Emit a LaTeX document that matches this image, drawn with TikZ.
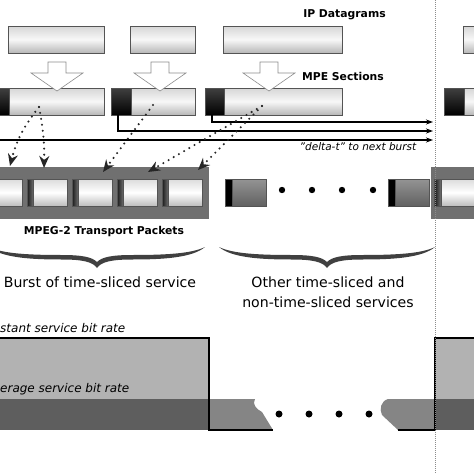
\documentclass[tikz,border=0pt]{standalone}
\usepackage{fontspec}
\setmainfont{DejaVu Sans}
\usetikzlibrary{positioning,arrows.meta}
\newlength{\du}
\setlength{\du}{1pt}
\definecolor{boxline}{rgb}{0.330000, 0.330000, 0.330000}
\definecolor{bandgray}{rgb}{0.440000, 0.440000, 0.440000}
\definecolor{constgray}{rgb}{0.700000, 0.700000, 0.700000}
\definecolor{avggray}{rgb}{0.370000, 0.370000, 0.370000}
\definecolor{tailgray}{rgb}{0.520000, 0.520000, 0.520000}
\newcommand{\secfont}{\fontsize{10.8}{13}\selectfont\bfseries}
\newcommand{\bracefont}{\fontsize{14.1}{20}\selectfont}
\newcommand{\ratefont}{\fontsize{12}{14}\selectfont\itshape}
\tikzset{
  box/.style={draw=boxline, line width=0.8\du, inner sep=0pt, outer sep=0pt, minimum height=27\du},
  ipbox/.style={box, top color=black!16, bottom color=black!28, middle color=black!3},
  mpehead/.style={box, top color=black!75, bottom color=black, minimum width=20\du},
  pkthead/.style={box, left color=black!90, right color=black!55, minimum width=6.5\du},
  litpkt/.style={box, top color=black!14, bottom color=black!26, middle color=white, minimum width=33.5\du},
  drkpkt/.style={box, top color=black!42, bottom color=black!62, minimum width=34\du},
  drkhead/.style={box, fill=black, minimum width=7\du},
  hollow/.style={draw=black!45, fill=white, line width=0.6\du, line join=miter},
  dotarrow/.style={draw=black!85, line width=2.3\du, line cap=round, dash pattern=on 0pt off 6\du, -{Stealth[length=12pt,width=10pt]}},
  tline/.style={line width=1.3\du, -{Stealth[length=7pt,width=5pt]}},
  bracefill/.style={fill=black!75},
  rateline/.style={line width=1.5\du, line join=miter},
}

\begin{document}
\begin{tikzpicture}[x=\du,y=\du]
\pgftransformxscale{1.000000}
\pgftransformyscale{-1.000000}
\useasboundingbox (0,0) rectangle (474,474);
% IP datagrams
\node[ipbox, minimum width=96\du] (ip1) at (56,39.5) {};
\node[ipbox, minimum width=65\du] (ip2) at (162.5,39.5) {};
\node[ipbox, minimum width=119\du] (ip3) at (282.5,39.5) {};
\node[ipbox, minimum width=60\du] (ip4) at (493,39.5) {};
\node (iplabel) at (344.5,15) {\secfont IP Datagrams};
% MPE sections
\node[ipbox, minimum width=95\du] (mpe1) at (56.5,101.5) {};
\node[mpehead, minimum width=21\du, left=0pt of mpe1] (mpehd1) {};
\node[ipbox, minimum width=64\du] (mpe2) at (163,101.5) {};
\node[mpehead, left=0pt of mpe2] (mpehd2) {};
\node[ipbox, minimum width=118\du] (mpe3) at (283,101.5) {};
\node[mpehead, minimum width=19\du, left=0pt of mpe3] (mpehd3) {};
\node[ipbox, minimum width=60\du] (mpe4) at (494,101.5) {};
\node[mpehead, left=0pt of mpe4] (mpehd4) {};
\node (mpelabel) at (343,76) {\secfont MPE Sections};
\foreach \cx in {57,160,269}
  \filldraw[hollow, shift={(\cx,0)}] (-9,62) -- (9,62) -- (9,73) -- (26,73) -- (0,91) -- (-26,73) -- (-9,73) -- cycle;
% delta-t
\coordinate (end1) at (433,140);
\coordinate (end2) at (433,131);
\coordinate (end3) at (433,122);
\draw[tline] (mpehd1.south) |- (end1);
\draw[tline] ([xshift=-3\du]mpehd2.south) |- (end2);
\draw[tline] ([xshift=-2.5\du]mpehd3.south) |- (end3);
\node (deltalabel) at (358,147) {\fontsize{10.5}{12}\selectfont\itshape "delta-t" to next burst};
% transport packets
\fill[bandgray] (0,167) rectangle (209,219);
\fill[bandgray] (431,167) rectangle (480,219);
\foreach \i/\x in {0/-18,1/27,2/72,3/117,4/162} {
  \node[litpkt] (pkt\i) at ({\x+23.25},192.5) {};
  \node[pkthead, left=0pt of pkt\i] (pkthd\i) {};
}
\node[drkpkt] (other1) at (249,192.5) {};
\node[drkhead, left=0pt of other1] (othhd1) {};
\node[drkpkt] (other2) at (412,192.5) {};
\node[drkhead, left=0pt of other2] (othhd2) {};
\foreach \x in {282,312,342,373}
  \fill (\x,190) circle (3.2);
\node[litpkt, minimum width=40\du] (next) at (461,192.5) {};
\node[pkthead, left=0pt of next] (nexthd) {};
\node (pktlabel) at (104,232) {\secfont MPEG-2 Transport Packets};
% section to packet
\coordinate (src1) at (39,107);
\coordinate (src2) at (153,105);
\coordinate (src3) at (262,106);
\coordinate (tgt0) at (10,166);
\coordinate (tgt1) at (44,168);
\coordinate (tgt2) at (103,172);
\coordinate (tgt3) at (148,172);
\coordinate (tgt4) at (198,170);
\draw[dotarrow] (src1) to[bend left=12] (tgt0);
\draw[dotarrow] (src1) to[bend right=6] (tgt1);
\draw[dotarrow] (src2) -- (tgt2);
\draw[dotarrow] (src3) -- (tgt3);
\draw[dotarrow] (src3) -- (tgt4);
% braces
\foreach \cx in {97,327}
  \fill[bracefill, shift={(\cx,268)}] (-108,-21) .. controls (-95,-10) and (-65,-8.5) .. (-35,-8.5) .. controls (-14,-8.5) and (-4,-6) .. (0,0) .. controls (4,-6) and (14,-8.5) .. (35,-8.5) .. controls (65,-8.5) and (95,-10) .. (108,-21) .. controls (94,-14) and (65,-13) .. (35,-13) .. controls (15,-13) and (5,-11) .. (0,-6) .. controls (-5,-11) and (-15,-13) .. (-35,-13) .. controls (-65,-13) and (-94,-14) .. (-108,-21) -- cycle;
\node (burstlabel) at (100,282) {\bracefont Burst of time-sliced service};
\node[font=\bracefont, align=center] (otherlabel) at (328,292) {Other time-sliced and\\non-time-sliced services};
% bit rates
\fill[constgray] (-5,338) rectangle (209,399);
\fill[avggray] (-5,399) rectangle (209,430);
\fill[tailgray] (209,399) -- (255,399) .. controls (252,404) and (256,409) .. (262,412) -- (273,430) -- (209,430) -- cycle;
\fill[tailgray] (435,399) -- (388,399) .. controls (381,401) and (379,409) .. (382,415) -- (398,430) -- (435,430) -- cycle;
\fill[constgray] (435,338) rectangle (480,399);
\fill[avggray] (435,399) rectangle (480,430);
\draw[rateline] (-5,338) -- (209,338) -- (209,430) -- (273,430);
\draw[rateline] (398,430) -- (435,430) -- (435,338) -- (480,338);
\foreach \x in {279,309,339,369}
  \fill (\x,414) circle (3.5);
\node[anchor=west, inner sep=0pt] (constlabel) at (0,328) {\ratefont stant service bit rate};
\node[anchor=west, inner sep=0pt] (avglabel) at (0,389) {\ratefont erage service bit rate};
% next burst marker
\draw[black!45, line width=0.6\du, dash pattern=on 0.7\du off 1.3\du] (435,0) -- (435,474);
\end{tikzpicture}
\end{document}
